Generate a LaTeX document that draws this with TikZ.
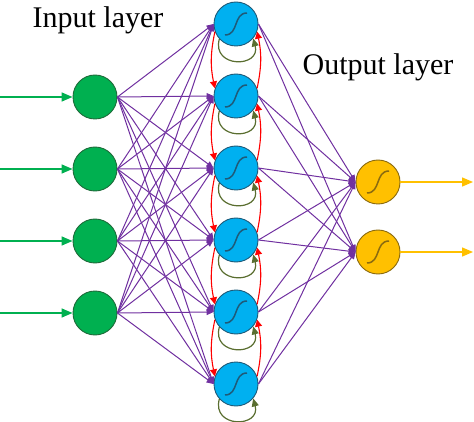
\documentclass[tikz,border=0pt]{standalone}
\usepackage{fontspec}
\setmainfont{Liberation Serif}
\usetikzlibrary{arrows.meta, positioning}
\definecolor{cin}{HTML}{00B050}
\definecolor{cinb}{HTML}{1E6B3A}
\definecolor{chid}{HTML}{00B0F0}
\definecolor{chidb}{HTML}{1F5A78}
\definecolor{cout}{HTML}{FFC000}
\definecolor{coutb}{HTML}{8A6A10}
\definecolor{csyn}{HTML}{7030A0}
\definecolor{crec}{HTML}{FF0000}
\definecolor{cself}{HTML}{5A6E30}

\begin{document}
\begin{tikzpicture}[
  x=1pt, y=1pt,
  neuron/.style={circle, minimum size=44pt, inner sep=0pt, line width=0.9pt},
  sig/.style={path picture={\draw[line width=1.5pt, shift={(path picture bounding box.center)}]
      (-11pt,-11pt) .. controls (3pt,-11pt) and (-3pt,11pt) .. (11pt,11pt);}},
  inp/.style={neuron, fill=cin, draw=cinb},
  hid/.style={neuron, sig, fill=chid, draw=chidb},
  outp/.style={neuron, sig, fill=cout, draw=coutb},
  syn/.style={csyn, line width=1pt, -{Triangle[length=7pt,width=6pt]}},
  rec/.style={crec, line width=1.1pt, -{Triangle[length=7pt,width=7pt]}},
  self/.style={cself, line width=1.2pt, -{Triangle[length=8pt,width=7pt]}},
  inarr/.style={cin, line width=1.4pt, -{Triangle[length=11pt,width=9pt]}},
  outarr/.style={cout, line width=1.4pt, -{Triangle[length=11pt,width=9pt]}},
  lbl/.style={font=\fontsize{30}{36}\selectfont, anchor=base},
  ]
\useasboundingbox (0,0) rectangle (474,421);

\foreach \i/\y in {1/324, 2/252, 3/180, 4/108} {
  \node[inp] (i\i) at (95,\y) {};
  \coordinate (s\i) at (0,\y);
  \draw[inarr] (s\i) -- (i\i.west);
}
\foreach \j/\y in {1/397, 2/325, 3/253, 4/181, 5/109, 6/37}
  \node[hid] (h\j) at (236,\y) {};
\foreach \k/\y in {1/239, 2/169} {
  \node[outp] (o\k) at (378,\y) {};
  \coordinate (e\k) at (473,\y);
  \draw[outarr] (o\k.east) -- (e\k);
}

\foreach \i in {1,...,4}
  \foreach \j in {1,...,6}
    \draw[syn] (i\i.east) -- (h\j.west);
\foreach \j in {1,...,6}
  \foreach \k in {1,2}
    \draw[syn] (h\j.east) -- (o\k.west);

\foreach \a/\b in {1/2, 2/3, 3/4, 4/5, 5/6} {
  \draw[rec] (h\a.200) to[bend right=12] (h\b.160);
  \draw[rec] (h\b.20) to[bend right=12] (h\a.-20);
}
\foreach \j in {1,...,6}
  \draw[self] (h\j.222) to[out=255, in=285, looseness=2.3] (h\j.320);

\node[lbl] (tin) at (98,393) {Input layer};
\node[lbl] (tout) at (378,346) {Output layer};
\end{tikzpicture}
\end{document}
